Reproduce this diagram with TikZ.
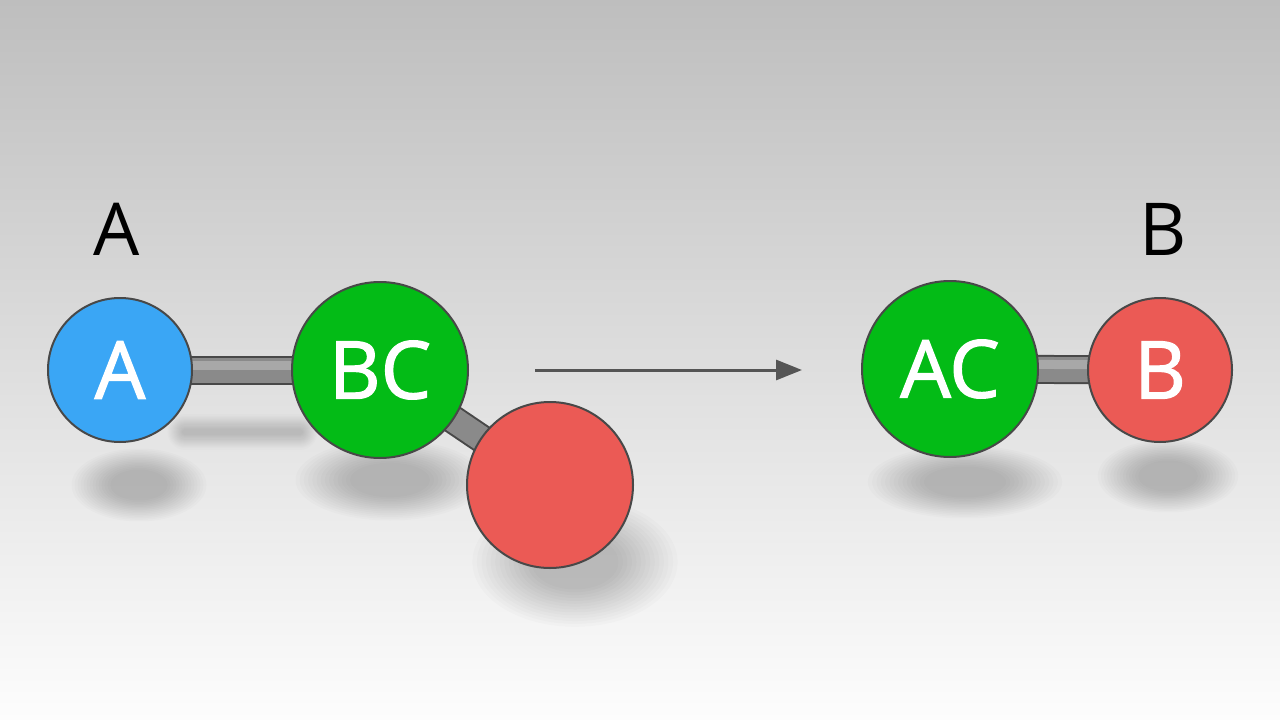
\documentclass[tikz,border=0pt]{standalone}
\usepackage{fontspec}
\setmainfont{Open Sans}
\newfontfamily\atomfont{Open Sans}[FakeBold=1.6]
\usetikzlibrary{arrows.meta,calc}
\pgfdeclarelayer{bg}
\pgfdeclarelayer{shadow}
\pgfdeclarelayer{bonds}
\pgfsetlayers{bg,shadow,bonds,main}
\definecolor{atomblue}{RGB}{58,166,245}
\definecolor{atomgreen}{RGB}{3,187,22}
\definecolor{atomred}{RGB}{235,90,85}
\definecolor{edgegray}{RGB}{72,72,72}
\definecolor{bondgray}{RGB}{138,138,138}
\definecolor{bondlight}{RGB}{168,168,168}
\definecolor{arrowgray}{RGB}{85,85,85}
\tikzset{
  atom/.style={circle, draw=edgegray, line width=2pt, inner sep=0pt, text=white,
    font=\atomfont\fontsize{80}{96}\selectfont},
  bigatom/.style={atom, minimum size=176pt},
  smallatom/.style={atom, minimum size=144pt},
  midatom/.style={atom, minimum size=166pt},
  bondout/.style={line width=29pt, draw=edgegray},
  bondin/.style={line width=25pt, draw=bondgray},
  bondhi/.style={line width=9pt, draw=bondlight},
  label/.style={font=\fontsize{73}{88}\selectfont, text=black},
  reaction/.style={line width=3pt, draw=arrowgray, -{Triangle[length=26pt,width=20pt]}},
}
\newcommand\blobshadow[3]{%
  \foreach \i in {0,...,13}{%
    \fill[black,opacity=0.014] (#1) ellipse ({(#2)*(1.35-\i*0.06)*1pt} and {(#3)*(1.35-\i*0.06)*1pt});
  }%
}
\newcommand\barshadow[4]{%
  \foreach \i in {0,...,13}{%
    \draw[black,opacity=0.011,line width={(#3)*(2.2-\i*0.14)*1pt},line cap=round] (#1) -- (#2);
  }%
}
\begin{document}
\begin{tikzpicture}[x=1pt,y=-1pt]
\useasboundingbox (0,0) rectangle (1280,720);
\begin{pgfonlayer}{bg}
  \shade[top color={rgb,255:red,190;green,190;blue,190}, middle color={rgb,255:red,226;green,226;blue,226}, bottom color={rgb,255:red,253;green,253;blue,253}] (0,0) rectangle (1280,720);
\end{pgfonlayer}

% atoms
\node[smallatom, fill=atomblue] (A) at (120,370) {A};
\node[bigatom, fill=atomgreen] (BC) at (380,370) {BC};
\node[midatom, fill=atomred] (R) at (550,485) {};
\node[bigatom, fill=atomgreen] (AC) at (950,369) {AC};
\node[smallatom, fill=atomred] (B) at (1160,370) {B};

% labels
\node[label] (LA) at (117,229) {A};
\node[label] (LB) at (1163,229) {B};

% bonds
\begin{pgfonlayer}{bonds}
  \draw[bondout] (A.center) -- (BC.center);
  \draw[bondin] (A.center) -- (BC.center);
  \draw[bondhi] ($(A.center)+(0,-5)$) -- ($(BC.center)+(0,-5)$);
  \draw[bondout] (BC.center) -- (R.center);
  \draw[bondin] (BC.center) -- (R.center);
  \draw[bondout] (AC.center) -- (B.center);
  \draw[bondin] (AC.center) -- (B.center);
  \draw[bondhi] ($(AC.center)+(0,-5)$) -- ($(B.center)+(0,-5)$);
\end{pgfonlayer}

% shadows
\begin{pgfonlayer}{shadow}
  \blobshadow{139,485}{50}{27}
  \blobshadow{390,480}{70}{30}
  \blobshadow{575,562}{76}{48}
  \blobshadow{965,482}{72}{27}
  \blobshadow{1168,476}{52}{27}
  \barshadow{185,432}{300,432}{16}
  \barshadow{1040,430}{1110,430}{14}
\end{pgfonlayer}

% reaction arrow
\coordinate (s) at (535,370);
\coordinate (e) at (802,370);
\draw[reaction] (s) -- (e);
\end{tikzpicture}
\end{document}
